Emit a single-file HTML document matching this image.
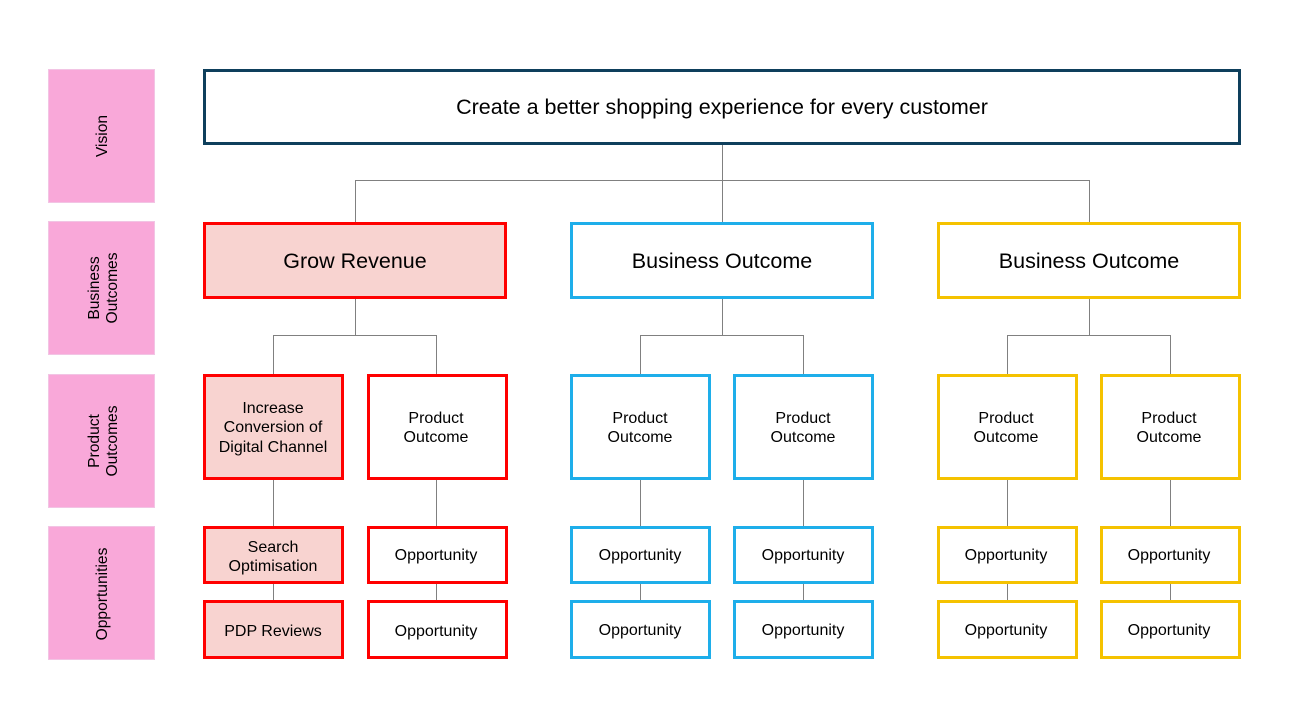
<!DOCTYPE html>
<html><head><meta charset="utf-8"><style>
html,body{margin:0;padding:0;background:#fff;}
svg{display:block;font-family:"Liberation Sans",Arial,sans-serif;}
</style></head><body>
<svg width="1291" height="726" viewBox="0 0 1291 726" xmlns="http://www.w3.org/2000/svg">
<rect width="1291" height="726" fill="#fff"/>
<g fill="#f9a8d9" stroke="#f2c4e4" stroke-width="1">
<rect x="48.5" y="69.5" width="106" height="133"/>
<rect x="48.5" y="221.5" width="106" height="133"/>
<rect x="48.5" y="374.5" width="106" height="133"/>
<rect x="48.5" y="526.5" width="106" height="133"/>
</g>
<g font-size="15.6" fill="#000" text-anchor="middle">
<text transform="translate(107,136) rotate(-90)">Vision</text>
<text transform="translate(99,288) rotate(-90)">Business</text>
<text transform="translate(117,288) rotate(-90)">Outcomes</text>
<text transform="translate(99,441) rotate(-90)">Product</text>
<text transform="translate(117,441) rotate(-90)">Outcomes</text>
<text transform="translate(107,594) rotate(-90)">Opportunities</text>
</g>
<g stroke="#808080" stroke-width="1" fill="none">
<path d="M722.5 145V180.5M355.5 222V180.5H1089.5V222M722.5 180.5V222"/>
<g id="conn">
<path d="M355.5 298V335.5M273.5 374V335.5H436.5V374M273.5 479V526M273.5 583V600M436.5 479V526M436.5 583V600"/>
</g>
<use href="#conn" transform="translate(367,0)"/>
<use href="#conn" transform="translate(734,0)"/>
</g>
<rect x="204.5" y="70.5" width="1035" height="73" fill="#fff" stroke="#0e3f5c" stroke-width="3"/>
<text x="722" y="114" font-size="21.5" text-anchor="middle">Create a better shopping experience for every customer</text>
<g stroke="#f00" stroke-width="3">
<rect x="204.5" y="223.5" width="301" height="74" fill="#f8d3d0"/>
<rect x="204.5" y="375.5" width="138" height="103" fill="#f8d3d0"/>
<rect x="368.5" y="375.5" width="138" height="103" fill="#fff"/>
<rect x="204.5" y="527.5" width="138" height="55" fill="#f8d3d0"/>
<rect x="368.5" y="527.5" width="138" height="55" fill="#fff"/>
<rect x="204.5" y="601.5" width="138" height="56" fill="#f8d3d0"/>
<rect x="368.5" y="601.5" width="138" height="56" fill="#fff"/>
</g>
<g stroke="#1eaeea" stroke-width="3" fill="#fff">
<rect x="571.5" y="223.5" width="301" height="74"/>
<rect x="571.5" y="375.5" width="138" height="103"/>
<rect x="734.5" y="375.5" width="138" height="103"/>
<rect x="571.5" y="527.5" width="138" height="55"/>
<rect x="734.5" y="527.5" width="138" height="55"/>
<rect x="571.5" y="601.5" width="138" height="56"/>
<rect x="734.5" y="601.5" width="138" height="56"/>
</g>
<g stroke="#f5c200" stroke-width="3" fill="#fff">
<rect x="938.5" y="223.5" width="301" height="74"/>
<rect x="938.5" y="375.5" width="138" height="103"/>
<rect x="1101.5" y="375.5" width="138" height="103"/>
<rect x="938.5" y="527.5" width="138" height="55"/>
<rect x="1101.5" y="527.5" width="138" height="55"/>
<rect x="938.5" y="601.5" width="138" height="56"/>
<rect x="1101.5" y="601.5" width="138" height="56"/>
</g>
<g font-size="21.5" text-anchor="middle" fill="#000">
<text x="355" y="268">Grow Revenue</text>
<text x="722" y="268">Business Outcome</text>
<text x="1089" y="268">Business Outcome</text>
</g>
<g font-size="16" text-anchor="middle" fill="#000">
<text x="273" y="413">Increase</text>
<text x="273" y="432">Conversion of</text>
<text x="273" y="452">Digital Channel</text>
<text x="436" y="423">Product</text><text x="436" y="442">Outcome</text>
<text x="640" y="423">Product</text><text x="640" y="442">Outcome</text>
<text x="803" y="423">Product</text><text x="803" y="442">Outcome</text>
<text x="1006" y="423">Product</text><text x="1006" y="442">Outcome</text>
<text x="1169" y="423">Product</text><text x="1169" y="442">Outcome</text>
<text x="273" y="552">Search</text><text x="273" y="571">Optimisation</text>
<text x="273" y="636">PDP Reviews</text>
<text x="436" y="560">Opportunity</text><text x="436" y="636">Opportunity</text>
<text x="640" y="560">Opportunity</text><text x="640" y="635">Opportunity</text>
<text x="803" y="560">Opportunity</text><text x="803" y="635">Opportunity</text>
<text x="1006" y="560">Opportunity</text><text x="1006" y="635">Opportunity</text>
<text x="1169" y="560">Opportunity</text><text x="1169" y="635">Opportunity</text>
</g>
</svg>
</body></html>
